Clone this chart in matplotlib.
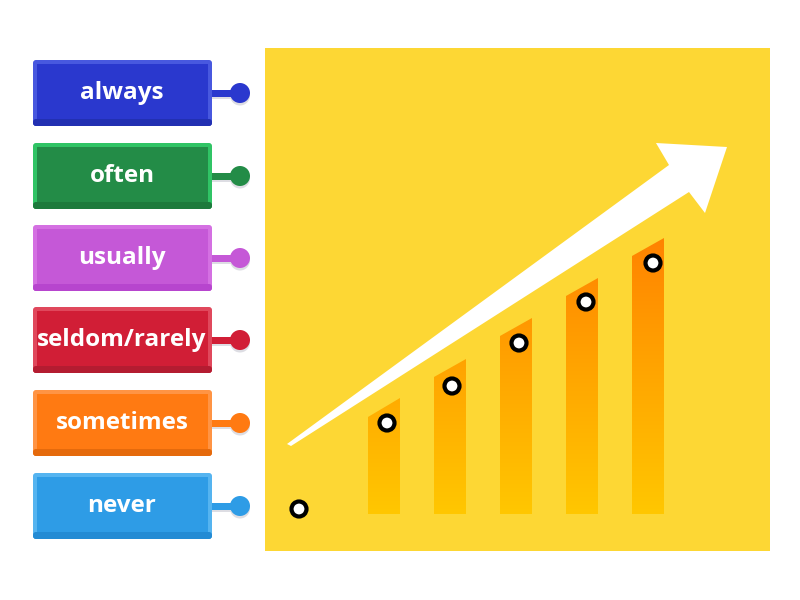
import matplotlib
matplotlib.use("Agg")
import matplotlib.pyplot as plt
import numpy as np
from matplotlib.patches import FancyBboxPatch, Rectangle, Polygon, Circle
from matplotlib.colors import LinearSegmentedColormap

plt.rcParams['font.family'] = ['Open Sans', 'DejaVu Sans']

# labels on the left
labels = ["always", "often", "usually", "seldom/rarely", "sometimes", "never"]
label_y = [93, 176, 258, 340, 423, 506]
main_cols = ["#2A38CE", "#238C47", "#C558D7", "#D11E36", "#FF7A12", "#2E9CE6"]
light_cols = ["#4858DF", "#30C465", "#D470E2", "#E0485C", "#FF9444", "#55B4F0"]
dark_cols = ["#2230B2", "#1D7A3C", "#B745CE", "#B41C31", "#E56A0C", "#238BD4"]

# bars of the picture (pixel units)
bar_left = [368, 434, 500, 566, 632]
bar_width = 32
bar_top_left = [417, 377, 336, 296, 256]
bar_top_right = [398, 359, 318, 278, 238]
bar_bottom = 514

# white arrow outline
arrow_x = [287, 669, 656, 727, 705, 689, 291]
arrow_y = [444, 165, 143, 147, 213, 192, 446]

# hotspot rings
spot_x = [299, 387, 452, 519, 586, 653]
spot_y = [509, 423, 386, 343, 302, 263]

fig = plt.figure(figsize=(8, 6), dpi=100)
ax = fig.add_axes([0, 0, 1, 1])

# yellow panel
ax.add_patch(Rectangle((265, 48), 505, 503, facecolor="#FDD734", edgecolor="none", zorder=1))

# bars with vertical gradient (orange at top, yellow at bottom)
cmap = LinearSegmentedColormap.from_list("bar", ["#FF8200", "#FFA600", "#FFC700"])
grad = np.linspace(0, 1, 256).reshape(-1, 1)
for i in range(len(bar_left)):
    x0 = bar_left[i]
    x1 = x0 + bar_width
    poly = Polygon([[x0, bar_bottom], [x0, bar_top_left[i]], [x1, bar_top_right[i]], [x1, bar_bottom]],
                   closed=True, facecolor="none", edgecolor="none")
    ax.add_patch(poly)
    im = ax.imshow(grad, cmap=cmap, aspect='auto', extent=(x0, x1, bar_bottom, 235),
                   origin='upper', zorder=2, interpolation='bilinear')
    im.set_clip_path(poly)

ax.set_xlim(0, 800)
ax.set_ylim(600, 0)
ax.axis('off')

# arrow
ax.add_patch(Polygon(np.column_stack([arrow_x, arrow_y]), closed=True,
                     facecolor="white", edgecolor="none", zorder=3))

# hotspots
for x, y in zip(spot_x, spot_y):
    ax.add_patch(Circle((x, y), 7.5, facecolor="white", edgecolor="black", linewidth=3, zorder=5))

# label boxes + connectors
for i, lab in enumerate(labels):
    yc = label_y[i]
    top = yc - 33
    h = 66
    ax.add_patch(FancyBboxPatch((33, top), 179, h, boxstyle="round,pad=0,rounding_size=3",
                                facecolor=light_cols[i], edgecolor="none", zorder=4))
    ax.add_patch(FancyBboxPatch((33, top + h - 7), 179, 7, boxstyle="round,pad=0,rounding_size=3",
                                facecolor=dark_cols[i], edgecolor="none", zorder=5))
    ax.add_patch(Rectangle((37, top + 4), 171, h - 11, facecolor=main_cols[i], edgecolor="none", zorder=5))
    # connector shadow
    ax.add_patch(Rectangle((212, yc - 1), 24, 7, facecolor="#DDDDE3", edgecolor="none", zorder=3))
    ax.add_patch(Circle((240, yc + 2.5), 10, facecolor="#DDDDE3", edgecolor="none", zorder=3))
    ax.add_patch(Rectangle((212, yc - 3.5), 24, 7, facecolor=main_cols[i], edgecolor="none", zorder=4))
    ax.add_patch(Circle((240, yc), 10, facecolor=main_cols[i], edgecolor="none", zorder=4))
    ax.text(122, yc, lab, color="white", fontsize=17.5, fontweight="bold",
            ha="center", va="center", zorder=6)

fig.savefig("out.png", dpi=100)
